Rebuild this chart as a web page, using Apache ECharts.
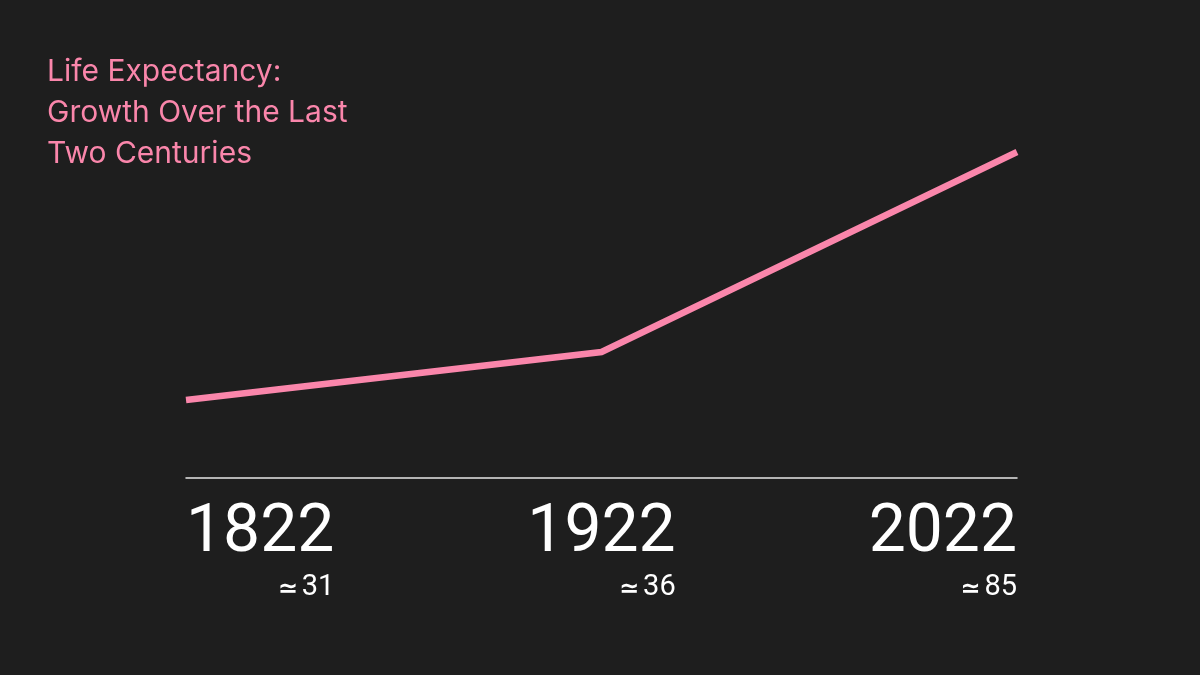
<!DOCTYPE html>
<html>
<head>
<meta charset="utf-8">
<script src="https://cdn.jsdelivr.net/npm/echarts@6/dist/echarts.min.js"></script>
<style>
  html, body { margin: 0; padding: 0; background: #1e1e1e; }
  #chart { width: 1200px; height: 675px; }
</style>
</head>
<body>
<div id="chart"></div>
<script>
// ---- data ----
const years = ['1822', '1922', '2022']
const lifeExpectancy = [31, 36, 85]
// drawn height of the line at each year (0-100 scale)
const lineLevels = [19.5, 31.5, 81.5]

const pink = '#fa86ab'

const chart = echarts.init(document.getElementById('chart'))

chart.setOption({
  backgroundColor: '#1e1e1e',
  animation: false,
  title: {
    text: 'Life Expectancy:\nGrowth Over the Last\nTwo Centuries',
    left: 42,
    top: 46,
    textStyle: {
      color: pink,
      fontFamily: 'Inter',
      fontWeight: 'normal',
      fontSize: 30,
      lineHeight: 41
    }
  },
  grid: { left: 186, right: 183, top: 78, bottom: 197 },
  xAxis: {
    type: 'category',
    data: years,
    boundaryGap: false,
    axisLine: { show: true, lineStyle: { color: '#e6e6e6', width: 1.5 } },
    axisTick: { show: false },
    splitLine: { show: false },
    axisLabel: {
      margin: 20,
      align: 'center',
      alignMinLabel: 'left',
      alignMaxLabel: 'right',
      formatter: (val, i) => `{y|${val}}\n{a|≃}{s|${lifeExpectancy[i]}}`,
      rich: {
        y: { color: '#ffffff', fontFamily: 'Roboto', fontSize: 66, lineHeight: 72, align: 'right' },
        a: { color: '#ffffff', fontFamily: 'DejaVu Sans', fontSize: 24, fontWeight: 'bold', lineHeight: 36, align: 'right', padding: [4, 4, 0, 0] },
        s: { color: '#ffffff', fontFamily: 'Roboto', fontSize: 29, lineHeight: 36, align: 'right' }
      }
    }
  },
  yAxis: {
    type: 'value',
    min: 0,
    max: 100,
    show: false
  },
  series: [{
    type: 'line',
    data: lineLevels,
    symbol: 'none',
    lineStyle: { color: pink, width: 6.5, cap: 'butt', join: 'miter' }
  }]
})
</script>
</body>
</html>
